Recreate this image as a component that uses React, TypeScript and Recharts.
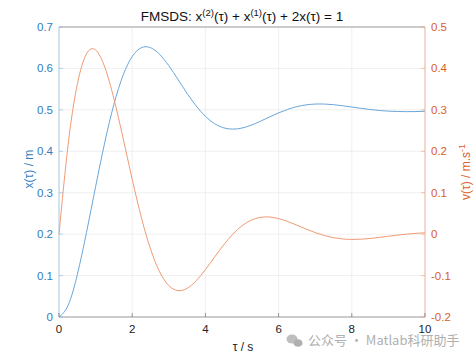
import { CartesianGrid, Line, LineChart, ReferenceLine, XAxis, YAxis } from 'recharts';

// time samples (s)
const tau = [
  0, 0.25, 0.5, 0.75, 1, 1.25, 1.5, 1.75, 2, 2.25, 2.5, 2.75, 3, 3.25, 3.5, 3.75, 4, 4.25, 4.5, 4.75,
  5, 5.25, 5.5, 5.75, 6, 6.25, 6.5, 6.75, 7, 7.25, 7.5, 7.75, 8, 8.25, 8.5, 8.75, 9, 9.25, 9.5, 9.75, 10,
];
// displacement x(tau), m
const xVals = [
  0, 0.0285, 0.1023, 0.2033, 0.3145, 0.4213, 0.5132, 0.5832, 0.6287, 0.65, 0.6502, 0.6339, 0.6066,
  0.5736, 0.5399, 0.5092, 0.4844, 0.4667, 0.4566, 0.4535, 0.4561, 0.463, 0.4724, 0.4828, 0.4927,
  0.5012, 0.5078, 0.512, 0.514, 0.514, 0.5125, 0.5099, 0.5068, 0.5037, 0.5009, 0.4985, 0.4969,
  0.496, 0.4957, 0.4959, 0.4966,
];
// velocity v(tau), m/s
const vVals = [
  0, 0.2166, 0.3616, 0.435, 0.4445, 0.4032, 0.327, 0.2318, 0.1323, 0.0403, -0.0357, -0.091, -0.1241,
  -0.1363, -0.1309, -0.1124, -0.0856, -0.0554, -0.0258, 0, 0.0202, 0.0337, 0.0405, 0.0414, 0.0375,
  0.0304, 0.0216, 0.0123, 0.0037, -0.0033, -0.0085, -0.0116, -0.0127, -0.0122, -0.0105, -0.008,
  -0.0051, -0.0024, 0, 0.0019, 0.0031,
];
const xTicks = [0, 2, 4, 6, 8, 10];
const leftTicks = [0, 0.1, 0.2, 0.3, 0.4, 0.5, 0.6, 0.7];
const rightTicks = [-0.2, -0.1, 0, 0.1, 0.2, 0.3, 0.4, 0.5];

const data = tau.map((t, i) => ({ t, x: xVals[i], v: vVals[i] }));

const FONT = '"Liberation Sans", Arial, Helvetica, sans-serif';
const BLUE = '#2f7dc0';
const ORANGE = '#d9602a';
const BLUE_LINE = '#6aa6da';
const ORANGE_LINE = '#f09a74';

const fmt = (v: number) => `${Math.round(v * 10) / 10}`;

function XTick(props: any) {
  const { x, y, payload } = props;
  return (
    <g>
      <line x1={x} x2={x} y1={y} y2={y - 4} stroke="#555" strokeWidth={0.6} />
      <text x={x} y={y + 16} textAnchor="middle" fontSize={11.5} fill="#222" fontFamily={FONT}>
        {payload.value}
      </text>
    </g>
  );
}

function LeftTick(props: any) {
  const { x, y, payload } = props;
  return (
    <g>
      <line x1={x} x2={x + 4} y1={y} y2={y} stroke="#8fbbe3" strokeWidth={0.6} />
      <text x={x - 6} y={y + 4} textAnchor="end" fontSize={11.5} fill={BLUE} fontFamily={FONT}>
        {fmt(payload.value)}
      </text>
    </g>
  );
}

function RightTick(props: any) {
  const { x, y, payload } = props;
  return (
    <g>
      <line x1={x} x2={x - 4} y1={y} y2={y} stroke="#f0a27e" strokeWidth={0.6} />
      <text x={x + 6} y={y + 4} textAnchor="start" fontSize={11.5} fill={ORANGE} fontFamily={FONT}>
        {fmt(payload.value)}
      </text>
    </g>
  );
}

export default function App() {
  return (
    <div style={{ position: 'absolute', left: 0, top: 0, width: 474, height: 356, background: '#fff' }}>
      <LineChart width={474} height={356} data={data} margin={{ top: 27, right: 0, left: 0, bottom: 0 }}>
        <CartesianGrid stroke="#ebebeb" strokeWidth={0.8} yAxisId="left" />
        <XAxis
          dataKey="t"
          type="number"
          domain={[0, 10]}
          ticks={xTicks}
          height={39}
          tickSize={0}
          tickMargin={0}
          tickLine={false}
          axisLine={{ stroke: '#8a8a8a', strokeWidth: 0.8 }}
          tick={<XTick />}
          interval={0}
        />
        <YAxis
          yAxisId="left"
          orientation="left"
          domain={[0, 0.7]}
          ticks={leftTicks}
          width={59}
          tickSize={0}
          tickMargin={0}
          tickLine={false}
          axisLine={{ stroke: '#9cc4e6', strokeWidth: 0.8 }}
          tick={<LeftTick />}
          interval={0}
        />
        <YAxis
          yAxisId="right"
          orientation="right"
          domain={[-0.2, 0.5]}
          ticks={rightTicks}
          width={49}
          tickSize={0}
          tickMargin={0}
          tickLine={false}
          axisLine={{ stroke: '#f2a98a', strokeWidth: 0.8 }}
          tick={<RightTick />}
          interval={0}
        />
        <ReferenceLine yAxisId="left" y={0.7} stroke="#8a8a8a" strokeWidth={0.8} />
        <Line
          yAxisId="left"
          dataKey="x"
          type="natural"
          stroke={BLUE_LINE}
          strokeWidth={1}
          dot={false}
          isAnimationActive={false}
        />
        <Line
          yAxisId="right"
          dataKey="v"
          type="natural"
          stroke={ORANGE_LINE}
          strokeWidth={1}
          dot={false}
          isAnimationActive={false}
        />
      </LineChart>
      <svg
        width={474}
        height={356}
        style={{ position: 'absolute', left: 0, top: 0, pointerEvents: 'none' }}
        fontFamily={FONT}
      >
        <text x={242} y={21} textAnchor="middle" fontSize={13.5} fill="#111">
          FMSDS: x<tspan dy={-5} fontSize={9.5}>(2)</tspan>
          <tspan dy={5}>(τ) + x</tspan>
          <tspan dy={-5} fontSize={9.5}>(1)</tspan>
          <tspan dy={5}>(τ) + 2x(τ) = 1</tspan>
        </text>
        <text x={33} y={169} transform="rotate(-90 33 169)" textAnchor="middle" fontSize={12} fill={BLUE}>
          x(τ) / m
        </text>
        <text x={470} y={172} transform="rotate(-90 470 172)" textAnchor="middle" fontSize={12} fill={ORANGE}>
          v(τ) / m.s<tspan dy={-5} fontSize={9}>-1</tspan>
        </text>
        <text x={243} y={351} textAnchor="middle" fontSize={12} fill="#222">
          τ / s
        </text>
        <g fill="#b8b8b8" opacity={0.9}>
          <ellipse cx={292} cy={339} rx={5.5} ry={4.5} />
          <ellipse cx={298} cy={343} rx={4.5} ry={3.8} fill="#a8a8a8" />
        </g>
        <text x={308} y={345} fontSize={13} fill="#b0b0b0" fontFamily='"Noto Sans CJK SC", "Noto Sans", sans-serif'>
          公众号 · Matlab科研助手
        </text>
      </svg>
    </div>
  );
}
